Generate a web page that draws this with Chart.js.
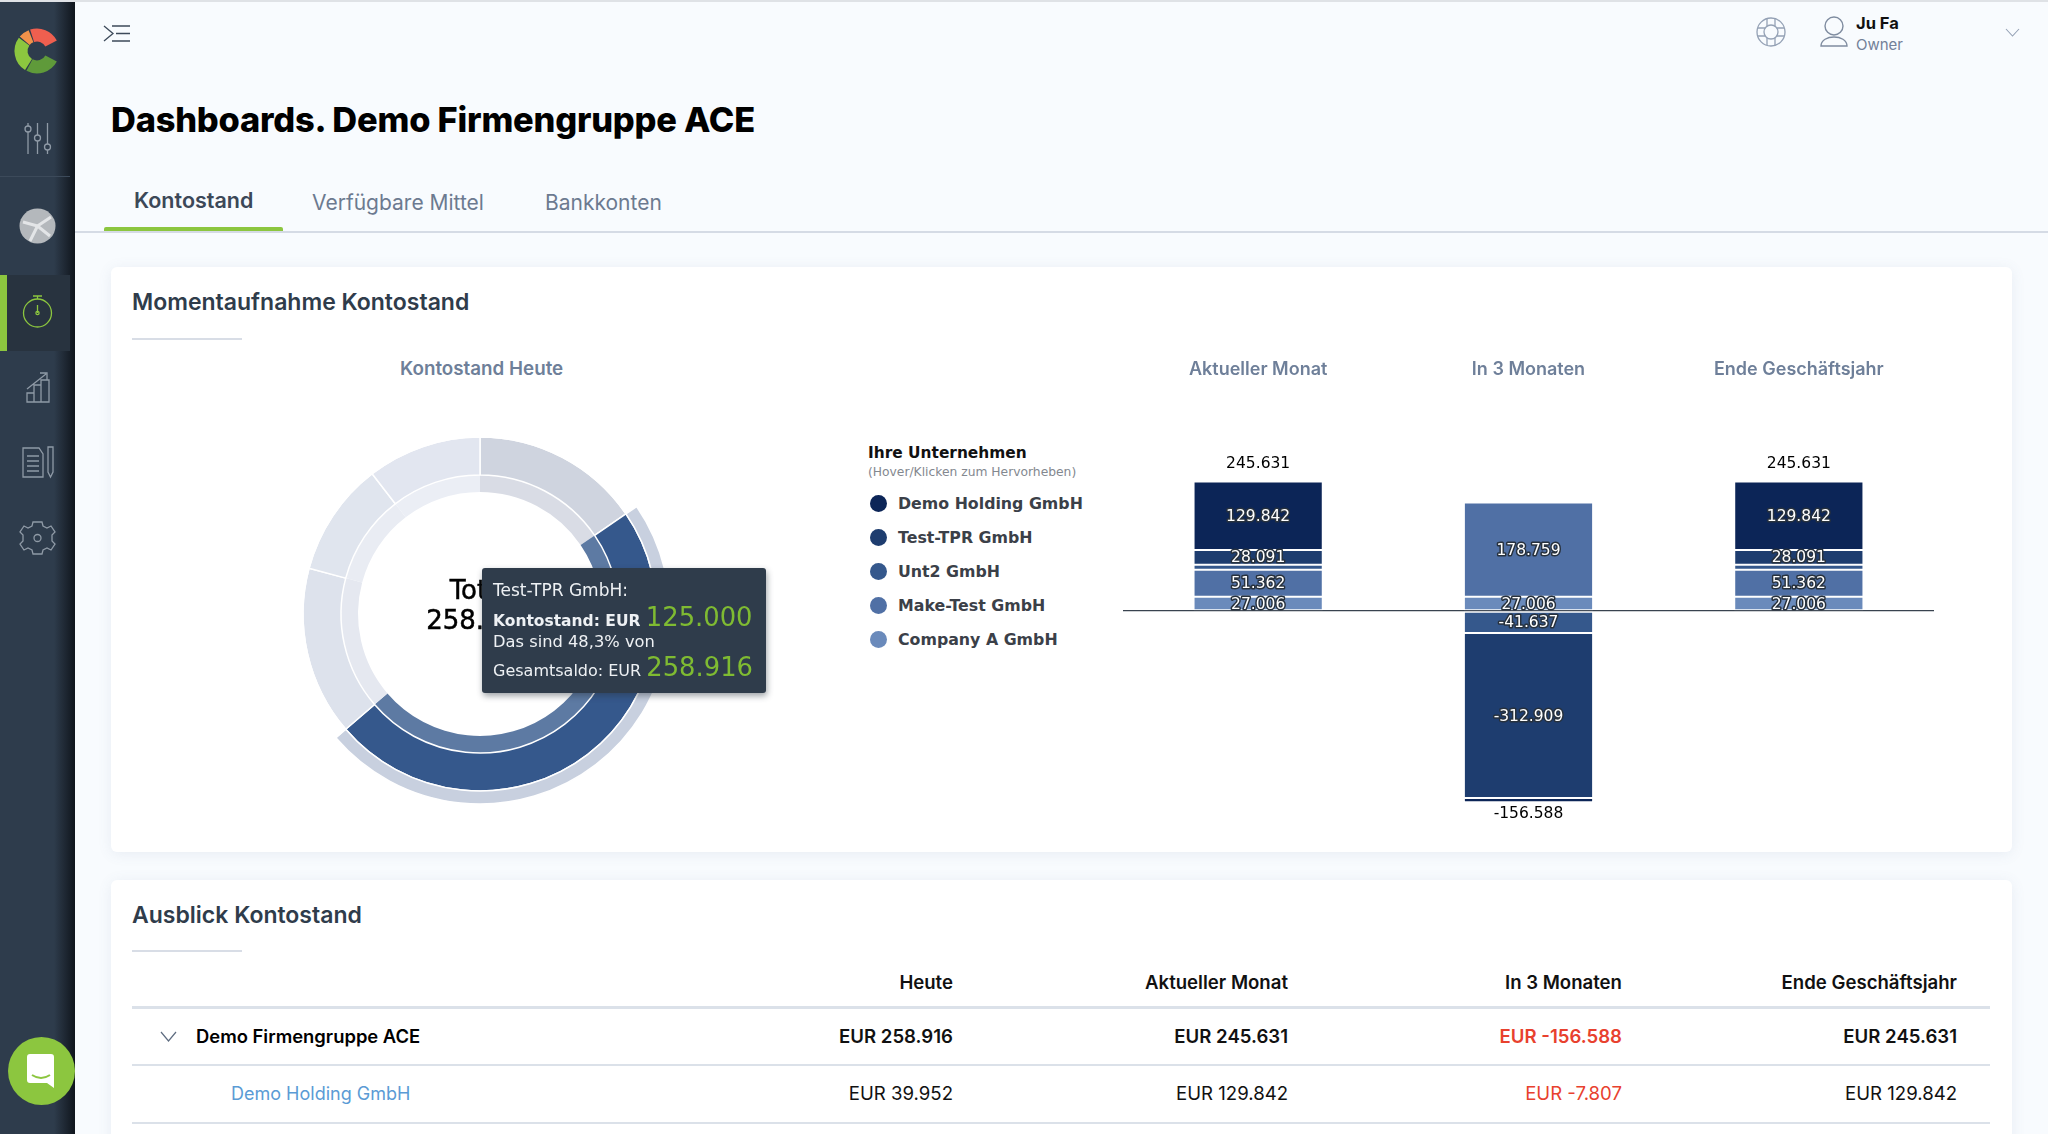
<!DOCTYPE html>
<html lang="de"><head><meta charset="utf-8"><title>Dashboards. Demo Firmengruppe ACE</title>
<script src="https://cdn.jsdelivr.net/npm/chart.js@4/dist/chart.umd.min.js"></script>
<style>
html,body{margin:0;padding:0;width:2048px;height:1134px;overflow:hidden;background:#f8fbfe;font-family:Inter,sans-serif}
.a{position:absolute;white-space:nowrap}
.vc{transform:translateY(-50%)}
.r{transform:translate(-100%,-50%)}
#side{left:0;top:0;width:75px;height:1134px;background:linear-gradient(to right,#2e3c4c 0,#2e3c4c 72%,#1d2631 88%,#0f151c 100%)}
.card{background:#fff;border-radius:6px;box-shadow:0 2px 14px rgba(90,110,150,.10)}
.h2{font-size:23px;font-weight:600;color:#2f3c4b}
.rule{height:1.5px;background:#d8dde6}
.sub{font-size:18.800px;font-weight:600;color:#6e7f99}
.dv{font-family:"DejaVu Sans",sans-serif}
.tip{background:#2f3c4b;border-radius:3px;box-shadow:1px 3px 6px rgba(40,50,60,.45);color:#eef1f4;left:482px;top:568px;width:284px;height:125px}
.tip span.g{color:#7fbb32}
.th{font-size:18.600px;font-weight:600;color:#111}
.td{font-size:18.600px;font-weight:500;color:#111}
.hl{background:#dbe1e9}
</style></head><body>
<div class="a" style="left:0;top:0;width:2048px;height:2px;background:#dfe2e6;z-index:5"></div>
<div class="a" id="side"></div>
<div class="a" style="left:0;top:275px;width:70px;height:76px;background:#28333f"></div>
<div class="a" style="left:0;top:275px;width:7px;height:76px;background:#8cc63f"></div>
<div class="a" style="left:0;top:176px;width:70px;height:1px;background:#3c4a5a"></div>
<svg class="a" style="left:0;top:0" width="75" height="620" fill="none" stroke="#8f9aa6" stroke-width="1.3" id="icons">
<path id="l1" stroke="#ef5f4f" stroke-width="13"/><path id="l2" stroke="#f2924a" stroke-width="13"/><path id="l3" stroke="#8cc63f" stroke-width="13"/><path id="l4" stroke="#5f9a3a" stroke-width="13"/>
<path d="M28 123v31M37.500 123v31M47.500 123v31"/><circle cx="28" cy="129" r="3" fill="#2e3c4c"/><circle cx="37.500" cy="138" r="3" fill="#2e3c4c"/><circle cx="47.500" cy="147" r="3" fill="#2e3c4c"/>
<ellipse cx="37.500" cy="226" rx="18" ry="17.500" fill="#b4b8bc" stroke="none"/><path d="M37.500 226L51 217M37.500 226L50 236M37.500 226L30 241M37.500 226L23 222" stroke="#e3e5e7" stroke-width="3"/>
<g stroke="#8cc63f"><circle cx="37.500" cy="313" r="14"/><path d="M37.500 313v-8M33 296h9M37.500 296v3"/><circle cx="37.500" cy="313" r="1.600"/></g>
<path d="M27 402v-9h7v9zM34 402v-17h7v17zM41 402v-22h8v22zM27 389l19-15M40 373h7v7"/>
<path d="M23 448h16l4 6v23H23zM27 456h12M27 461h12M27 466h12M27 471h12M48 447h5v25l-2.500 5-2.500-5z"/>
<circle cx="37.500" cy="538" r="3.500"/><path d="M33 522h9l1 4 4 2 4-2 4 6-3 3v6l3 3-4 6-4-2-4 2-1 4h-9l-1-4-4-2-4 2-4-6 3-3v-6l-3-3 4-6 4 2 4-2z"/>
</svg>
<div class="a" style="left:8px;top:1037px;width:67px;height:68px;background:#8cc63f;border-radius:50%"></div>
<svg class="a" style="left:26px;top:1053px" width="32" height="36"><path d="M4 1h21a3 3 0 0 1 3 3v31l-7-5H4a3 3 0 0 1-3-3V4a3 3 0 0 1 3-3z" fill="#fff"/><path d="M6 22q9 6 18 0" stroke="#8cc63f" stroke-width="2" fill="none"/></svg>

<svg class="a" style="left:103px;top:25px" width="28" height="18" fill="none" stroke="#3d4a5a" stroke-width="1.300"><path d="M1 1l9 7.500-9 7.500M9 1h18M13 8.500h14M9 16h18"/></svg>
<div class="a vc" style="left:111px;top:119px;font-size:34.400px;font-weight:800;color:#000;letter-spacing:-.2px">Dashboards. Demo Firmengruppe ACE</div>
<div class="a vc" style="left:134px;top:200px;font-size:21.500px;font-weight:600;color:#3c4858">Kontostand</div>
<div class="a vc" style="left:312px;top:202px;font-size:21px;color:#6c7a90">Verfügbare Mittel</div>
<div class="a vc" style="left:545px;top:202px;font-size:21px;color:#6c7a90">Bankkonten</div>
<div class="a" style="left:75px;top:231px;width:1973px;height:1.5px;background:#d5dbe5"></div>
<div class="a" style="left:104px;top:227px;width:179px;height:4px;background:#8cc63f;border-radius:2px 2px 0 0"></div>
<svg class="a" style="left:1755px;top:16px" width="32" height="32" fill="none" stroke="#94a1b5" stroke-width="1.300"><circle cx="16" cy="16" r="14"/><circle cx="16" cy="16" r="7"/><path d="M12 3v7M20 3v7M12 22v7M20 22v7M3 12h7M3 20h7M22 12h7M22 20h7"/></svg>
<svg class="a" style="left:1819px;top:15px" width="30" height="34" fill="none" stroke="#7f8ca0" stroke-width="1.400"><circle cx="15" cy="11" r="9"/><path d="M2 31c0-12 26-12 26 0z"/></svg>
<div class="a vc" style="left:1856px;top:23px;font-size:16.500px;font-weight:700;color:#111">Ju Fa</div>
<div class="a vc" style="left:1856px;top:44px;font-size:15px;color:#728098">Owner</div>
<svg class="a" style="left:2005px;top:28px" width="15" height="10" fill="none" stroke="#94a1b5" stroke-width="1.100"><path d="M1 1l6.500 7L14 1"/></svg>

<div class="a card" style="left:111px;top:267px;width:1901px;height:585px"></div>
<div class="a h2 vc" style="left:132px;top:302px">Momentaufnahme Kontostand</div>
<div class="a rule" style="left:132px;top:338px;width:110px"></div>
<div class="a sub vc" style="left:400px;top:368px">Kontostand Heute</div>

<canvas class="a" id="ring" width="400" height="400" style="left:280px;top:414px"></canvas>
<div class="a dv" style="left:380px;width:200px;top:575px;text-align:center;font-size:26px;line-height:30px;font-weight:500;color:#000;-webkit-text-stroke:.5px #000">Total<br><span id="tot"></span></div>

<div class="a dv" id="legend" style="left:0;top:0"></div>
<canvas class="a" id="bars" width="811" height="472" style="left:1123px;top:350px"></canvas>

<div class="a tip dv" id="tip"></div>

<div class="a card" style="left:111px;top:880px;width:1901px;height:280px"></div>
<div class="a h2 vc" style="left:132px;top:915px">Ausblick Kontostand</div>
<div class="a rule" style="left:132px;top:950px;width:110px"></div>
<div id="table"></div>

<script>
const companies=['Demo Holding GmbH','Test-TPR GmbH','Unt2 GmbH','Make-Test GmbH','Company A GmbH'];
const companyColors=['#0c2557','#1e3d6f','#35588c','#5070a5','#6a8abb'];
const todayValues=[39952,125000,40000,26958,27006];
const todayTotal=258916;
const ringOuterColors=['#cfd4df','#35588c','#dde2ec','#e0e5ee','#e2e6f0'];
const ringInnerColors=['#d9dce5','#5d7aa3','#e5e8f0','#e9ecf3','#ebeef5'];
const ringBandColors=['rgba(0,0,0,0)','#c8d0df','rgba(0,0,0,0)','rgba(0,0,0,0)','rgba(0,0,0,0)'];
const periods=['Aktueller Monat','In 3 Monaten','Ende Geschäftsjahr'];
const demoHolding=[129842,-7807,129842];
const testTpr=[28091,-312909,28091];
const unt2=[9330,-41637,9330];
const makeTest=[51362,178759,51362];
const companyA=[27006,27006,27006];
const periodTotals=[245631,-156588,245631];
const tableHeads=['Heute','Aktueller Monat','In 3 Monaten','Ende Geschäftsjahr'];
const groupRow=[258916,245631,-156588,245631];
const holdingRow=[39952,129842,-7807,129842];

const fmt=v=>v.toLocaleString('de-DE');
document.getElementById('tot').textContent=fmt(todayTotal);

/* logo */
function arc(a0,a1,r){const cx=37,cy=51;const p=a=>{const t=(a-90)*Math.PI/180;return (cx+r*Math.cos(t)).toFixed(1)+' '+(cy+r*Math.sin(t)).toFixed(1)};
  return 'M'+p(a0)+'A'+r+' '+r+' 0 '+((a1-a0)>180?1:0)+' 1 '+p(a1);}
document.getElementById('l1').setAttribute('d',arc(-18,62,16));
document.getElementById('l2').setAttribute('d',arc(-50,-22,16));
document.getElementById('l3').setAttribute('d',arc(-148,-54,16));
document.getElementById('l4').setAttribute('d',arc(118,208,16));

/* legend */
const leg=document.getElementById('legend');
let lh='<div class="a vc" style="left:868px;top:453px;font-size:15.400px;font-weight:700;color:#111">Ihre Unternehmen</div>'+
 '<div class="a vc" style="left:868px;top:472px;font-size:12.300px;color:#83888f">(Hover/Klicken zum Hervorheben)</div>';
companies.forEach((c,i)=>{const y=503+i*34.1;
 lh+=`<div class="a" style="left:870px;top:${y-8.5}px;width:17px;height:17px;border-radius:50%;background:${companyColors[i]}"></div>`+
     `<div class="a vc" style="left:898px;top:${y}px;font-size:15.800px;font-weight:700;color:#3b4048">${c}</div>`;});
leg.innerHTML=lh;

/* tooltip */
const tipLines=[
 [590,`<span style="font-size:17px">${companies[1]}:</span>`],
 [617,`<span style="font-size:15.500px;font-weight:700">Kontostand: EUR </span><span class="g" style="font-size:25.800px">${fmt(todayValues[1])}</span>`],
 [641,`<span style="font-size:16.300px">Das sind ${(todayValues[1]/todayTotal*100).toFixed(1).replace('.',',')}% von</span>`],
 [667,`<span style="font-size:16px">Gesamtsaldo: EUR </span><span class="g" style="font-size:25.800px">${fmt(todayTotal)}</span>`]];
document.getElementById('tip').innerHTML=tipLines.map(([y,h])=>`<div class="a vc" style="left:11px;top:${y-568}px">${h}</div>`).join('');

/* table */
const rights=[953,1288,1622,1957];
let t='';
tableHeads.forEach((h,i)=>t+=`<div class="a th r" style="left:${rights[i]}px;top:982px">${h}</div>`);
t+='<div class="a hl" style="left:132px;top:1006px;width:1858px;height:2.500px"></div>';
t+='<svg class="a" style="left:160px;top:1031px" width="17" height="11" fill="none" stroke="#5e6c80" stroke-width="1.200"><path d="M1 1l7.500 9L16 1"/></svg>';
t+='<div class="a vc" style="left:196px;top:1036px;font-size:18.400px;font-weight:600;color:#000">Demo Firmengruppe ACE</div>';
groupRow.forEach((v,i)=>t+=`<div class="a td r" style="left:${rights[i]}px;top:1036px;font-weight:600;color:${v<0?'#e8412e':'#111'}">EUR ${fmt(v)}</div>`);
t+='<div class="a hl" style="left:132px;top:1064px;width:1858px;height:1.500px"></div>';
t+=`<div class="a vc" style="left:231px;top:1093px;font-size:18px;color:#5b9bd5">${companies[0]}</div>`;
holdingRow.forEach((v,i)=>t+=`<div class="a td r" style="left:${rights[i]}px;top:1093px;font-weight:400;color:${v<0?'#e8412e':'#111'}">EUR ${fmt(v)}</div>`);
t+='<div class="a hl" style="left:132px;top:1122px;width:1858px;height:1.500px"></div>';
document.getElementById('table').innerHTML=t;

/* doughnut */
Chart.defaults.animation=false;
new Chart(document.getElementById('ring'),{
 type:'doughnut',
 data:{labels:companies,datasets:[
  {data:todayValues,backgroundColor:ringBandColors,borderColor:'#fff',borderWidth:1.500,weight:13},
  {data:todayValues,backgroundColor:ringOuterColors,borderColor:'#fff',borderWidth:1.500,weight:38},
  {data:todayValues,backgroundColor:ringInnerColors,borderColor:'rgba(255,255,255,0)',borderWidth:0,weight:17}]},
 options:{responsive:false,radius:190,cutout:'64.200%',plugins:{legend:{display:false},tooltip:{enabled:false}}}
});

/* stacked bars */
const labelPlugin={id:'valueLabels',afterDatasetsDraw(ch){
 const c=ch.ctx;c.save();c.textAlign='center';c.textBaseline='middle';c.font='15.500px "DejaVu Sans"';c.lineJoin='round';
 ch.data.datasets.forEach((ds,di)=>{ch.getDatasetMeta(di).data.forEach((el,i)=>{
   const v=ds.data[i];if(Math.abs(v)<10000)return;
   const p=el.getProps(['x','y','base'],true);const y=(p.y+p.base)/2+1;
   c.lineWidth=3;c.strokeStyle='#27313d';c.strokeText(fmt(v),p.x,y);c.fillStyle='#fff';c.fillText(fmt(v),p.x,y);});});
 const ys=ch.scales.y,xs=ch.scales.x;c.fillStyle='#000';
 periodTotals.forEach((v,i)=>{const x=xs.getPixelForValue(i);
   if(v>=0){c.fillText(fmt(v),x,ys.getPixelForValue(v)-17);}
   else{const neg=demoHolding[i]+testTpr[i]+unt2[i];c.fillText(fmt(v),x,ys.getPixelForValue(neg)+12);}});
 c.restore();}};
const barSeries=[[companies[4],companyA,4],[companies[3],makeTest,3],[companies[2],unt2,2],[companies[1],testTpr,1],[companies[0],demoHolding,0]];
new Chart(document.getElementById('bars'),{
 type:'bar',plugins:[labelPlugin],
 data:{labels:periods,datasets:barSeries.map(([n,d,ci])=>({label:n,data:d,backgroundColor:companyColors[ci],borderColor:'#fff',borderWidth:1,borderSkipped:false}))},
 options:{responsive:false,maintainAspectRatio:false,layout:{padding:0},
  barPercentage:.478,categoryPercentage:1,
  plugins:{legend:{display:false},tooltip:{enabled:false}},
  scales:{
   x:{position:'top',stacked:true,afterFit(s){s.height=50},grid:{display:false,drawTicks:false},border:{display:false},
      ticks:{color:'#6e7f99',padding:20,font:{family:'Inter',size:18,weight:'600'},maxRotation:0}},
   y:{stacked:true,min:-400000,max:400000,grid:{drawTicks:false,lineWidth:1.300,color:c=>c.tick.value===0?'#39434f':'rgba(0,0,0,0)'},border:{display:false},
      ticks:{display:false,stepSize:100000}}
  }}
});
</script>
</body></html>
